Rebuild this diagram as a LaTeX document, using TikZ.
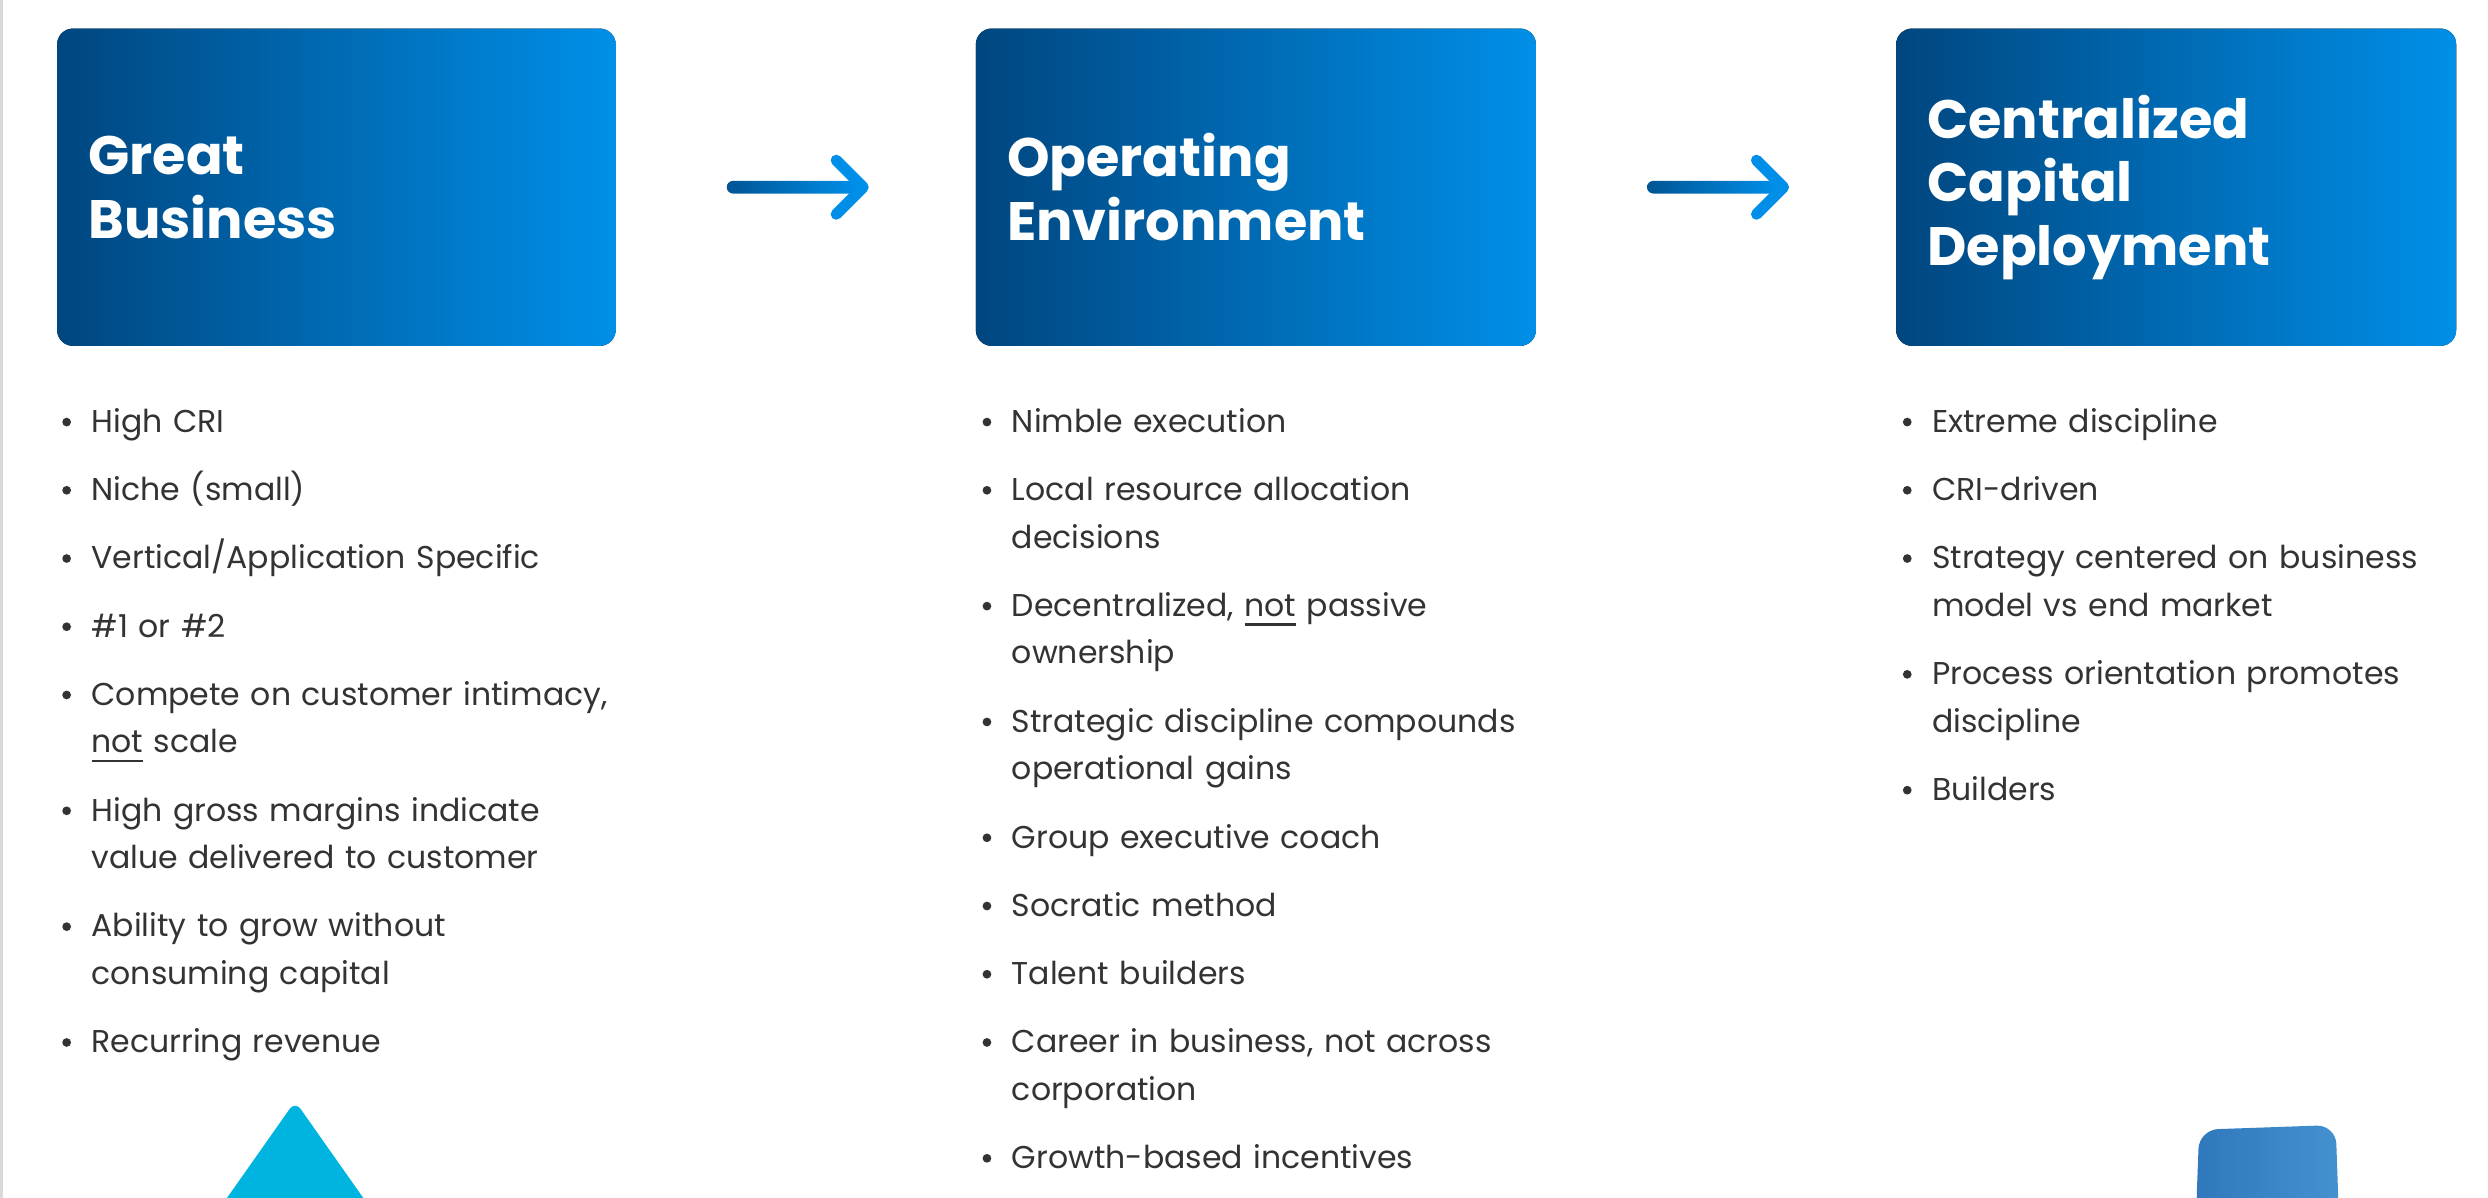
\documentclass[tikz,border=0pt]{standalone}
\usepackage{fontspec}
\setmainfont{Poppins}
\usetikzlibrary{arrows.meta,shadings}
\definecolor{dkb}{HTML}{00467F}
\definecolor{ltb}{HTML}{008FE8}
\definecolor{txt}{HTML}{333333}
\definecolor{cyanb}{HTML}{00B4E0}
\definecolor{pb1}{HTML}{2F78BC}
\definecolor{pb2}{HTML}{4491D0}
\tikzset{
  head/.style={rounded corners=0.1cm, left color=dkb, right color=ltb, draw=none},
  ttl/.style={anchor=west, text=white, font=\fontsize{9.7}{11.4}\selectfont\bfseries, align=left, inner sep=0},
  item/.style={anchor=north west, text=txt, font=\fontsize{5.65}{8.5}\selectfont, align=left, inner sep=0, text width=3.3cm},
  dot/.style={circle, fill=txt, inner sep=0, minimum size=0.055cm}
}
\begin{document}
\begin{tikzpicture}[x=0.01cm,y=-0.01cm]
\useasboundingbox (0,0) rectangle (1568,755);
\fill[white] (0,0) rectangle (1568,755);
\draw[color=black!15, line width=0.02cm] (1,0) -- (1,755);
% boxes
\fill[head] (36,18) rectangle (388,218);
\fill[head] (615,18) rectangle (968,218);
\fill[head] (1195,18) rectangle (1548,218);
\node[ttl] (t1) at (55,118) {Great\\Business};
\node[ttl] (t2) at (634,118) {Operating\\Environment};
\node[ttl] (t3) at (1214,118) {Centralized\\Capital\\Deployment};
% arrows
\shade[left color=dkb!80!ltb, right color=ltb, rounded corners=0.04cm] (458,114) rectangle (540,122);
\shade[left color=dkb!80!ltb, right color=ltb, rounded corners=0.04cm] (1038,114) rectangle (1120,122);
\draw[ltb, line width=0.07cm, line cap=round, line join=round] (527,101) -- (544,118) -- (527,135);
\draw[ltb, line width=0.07cm, line cap=round, line join=round] (1107,101) -- (1124,118) -- (1107,135);
% items
\newcommand{\itm}[4]{\node[dot] at (#1-15,#2+1) {}; \node[item] (#3) at (#1,#2-15) {\rule{0pt}{6.2pt}#4};}
\itm{57}{265}{l1}{High CRI}
\itm{57}{308}{l2}{Niche (small)}
\itm{57}{351}{l3}{Vertical/Application Specific}
\itm{57}{394}{l4}{\#1 or \#2}
\itm{57}{437}{l5}{Compete on customer intimacy,\\\underline{not} scale}
\itm{57}{510}{l6}{High gross margins indicate\\value delivered to customer}
\itm{57}{583}{l7}{Ability to grow without\\consuming capital}
\itm{57}{656}{l8}{Recurring revenue}
\itm{637}{265}{m1}{Nimble execution}
\itm{637}{308}{m2}{Local resource allocation\\decisions}
\itm{637}{381}{m3}{Decentralized, \underline{not} passive\\ownership}
\itm{637}{454}{m4}{Strategic discipline compounds\\operational gains}
\itm{637}{527}{m5}{Group executive coach}
\itm{637}{570}{m6}{Socratic method}
\itm{637}{613}{m7}{Talent builders}
\itm{637}{656}{m8}{Career in business, not across\\corporation}
\itm{637}{729}{m9}{Growth-based incentives}
\itm{1217}{265}{r1}{Extreme discipline}
\itm{1217}{308}{r2}{CRI-driven}
\itm{1217}{351}{r3}{Strategy centered on business\\model vs end market}
\itm{1217}{424}{r4}{Process orientation promotes\\discipline}
\itm{1217}{497}{r5}{Builders}
% bottom shapes
\fill[cyanb, rounded corners=0.06cm] (136,765) -- (186,694) -- (236,765) -- cycle;
\shade[left color=pb1, right color=pb2, rounded corners=0.12cm] (1384,765) -- (1386,712) -- (1472,709) -- (1474,765) -- cycle;
\end{tikzpicture}
\end{document}
